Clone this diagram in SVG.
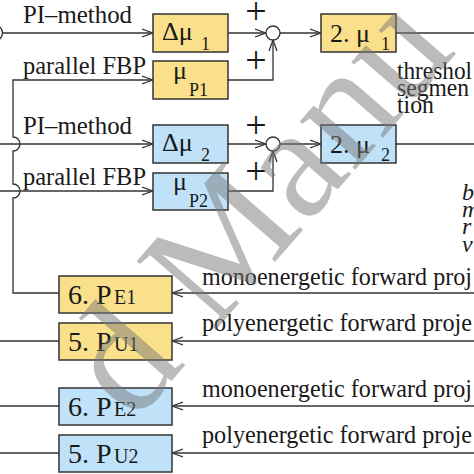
<svg xmlns="http://www.w3.org/2000/svg" width="474" height="474" viewBox="0 0 474 474">
<defs>
<style>
.t{font-family:"Liberation Serif","Times New Roman",serif;font-size:26px;fill:#1a1a1a}
.m{font-family:"Liberation Serif","Times New Roman",serif;font-size:26px;fill:#1a1a1a}
.s{font-family:"Liberation Serif","Times New Roman",serif;font-size:18px;fill:#1a1a1a}
.sc{font-family:"Liberation Serif","Times New Roman",serif;font-size:20px;fill:#1a1a1a}
.big{font-family:"Liberation Serif","Times New Roman",serif;font-size:28px;fill:#1a1a1a}
.pl{font-family:"Liberation Serif","Times New Roman",serif;font-size:38px;fill:#1a1a1a;text-anchor:middle}
.it{font-family:"Liberation Serif","Times New Roman",serif;font-size:24px;font-style:italic;fill:#1a1a1a}
.y{fill:#FAE08A;stroke:#333;stroke-width:1.5}
.bl{fill:#BFE2F8;stroke:#333;stroke-width:1.5}
.ln{fill:none;stroke:#333;stroke-width:1.3}
.wm{font-family:"Liberation Serif","Times New Roman",serif;font-size:160px;fill:#777;fill-opacity:0.5}
</style>
<marker id="ar" markerWidth="12" markerHeight="10" refX="11" refY="5" orient="auto" markerUnits="userSpaceOnUse">
<path d="M0,1 L11,5 L0,9" fill="none" stroke="#333" stroke-width="1.3"/>
</marker>
</defs>
<rect width="474" height="474" fill="#fff"/>

<g id="connectors" class="ln">
<path d="M0,27 Q5,33 0,39"/>
<path d="M3,33 H153" marker-end="url(#ar)"/>
<path d="M59,293 H13 V198 A7,7 0 0 0 13,184 V151 A7,7 0 0 0 13,137 V80 H153" marker-end="url(#ar)"/>
<path d="M228,33 H266" marker-end="url(#ar)"/>
<path d="M228,80 H273 V40" marker-end="url(#ar)"/>
<path d="M280,33 H321" marker-end="url(#ar)"/>
<path d="M396,33 H474"/>
<path d="M0,144 H153" marker-end="url(#ar)"/>
<path d="M0,191 H153" marker-end="url(#ar)"/>
<path d="M228,144 H266" marker-end="url(#ar)"/>
<path d="M228,191 H273 V151" marker-end="url(#ar)"/>
<path d="M280,144 H321" marker-end="url(#ar)"/>
<path d="M396,144 H474"/>
<path d="M474,293 H172" marker-end="url(#ar)"/>
<path d="M474,341 H172" marker-end="url(#ar)"/>
<path d="M0,341 H59"/>
<path d="M474,406 H172" marker-end="url(#ar)"/>
<path d="M0,406 H59"/>
<path d="M474,453 H172" marker-end="url(#ar)"/>
<path d="M0,453 H59"/>
</g>

<g id="labels">
<text class="t" x="23" y="23" textLength="109" lengthAdjust="spacingAndGlyphs">PI–method</text>
<text class="t" x="23" y="74" textLength="123" lengthAdjust="spacingAndGlyphs">parallel FBP</text>
<text class="t" x="23" y="134" textLength="109" lengthAdjust="spacingAndGlyphs">PI–method</text>
<text class="t" x="23" y="185" textLength="123" lengthAdjust="spacingAndGlyphs">parallel FBP</text>
<text class="pl" x="256" y="24">+</text>
<text class="pl" x="256" y="73">+</text>
<text class="pl" x="256" y="138">+</text>
<text class="pl" x="256" y="184">+</text>
<text class="t" x="397" y="79" textLength="75" lengthAdjust="spacingAndGlyphs">threshol</text>
<text class="t" x="397" y="96" textLength="72" lengthAdjust="spacingAndGlyphs">segmen</text>
<text class="t" x="397" y="113" textLength="37" lengthAdjust="spacingAndGlyphs">tion</text>
<text class="it" x="462" y="200">b</text>
<text class="it" x="462" y="217">m</text>
<text class="it" x="462" y="234">r</text>
<text class="it" x="462" y="252">v</text>
<text class="t" x="202" y="285" textLength="270" lengthAdjust="spacingAndGlyphs">monoenergetic forward proj</text>
<text class="t" x="202" y="331" textLength="270" lengthAdjust="spacingAndGlyphs">polyenergetic forward proje</text>
<text class="t" x="202" y="397" textLength="270" lengthAdjust="spacingAndGlyphs">monoenergetic forward proj</text>
<text class="t" x="202" y="443" textLength="270" lengthAdjust="spacingAndGlyphs">polyenergetic forward proje</text>
</g>

<g id="sum1"><circle cx="273" cy="33" r="7" fill="#fff" stroke="#333" stroke-width="1.3"/></g>
<g id="sum2"><circle cx="273" cy="144" r="7" fill="#fff" stroke="#333" stroke-width="1.3"/></g>

<g id="dmu1"><rect class="y" x="153" y="14" width="75" height="38"/><text class="m" x="162" y="40">Δμ</text><text class="s" x="201" y="50">1</text></g>
<g id="mup1"><rect class="y" x="153" y="61" width="75" height="38"/><text class="m" x="173" y="79">μ</text><text class="s" x="189" y="96">P1</text></g>
<g id="mu1"><rect class="y" x="321" y="14" width="75" height="38"/><text class="m" x="330" y="42">2. μ</text><text class="s" x="381" y="50">1</text></g>

<g id="dmu2"><rect class="bl" x="153" y="125" width="75" height="38"/><text class="m" x="162" y="151">Δμ</text><text class="s" x="201" y="161">2</text></g>
<g id="mup2"><rect class="bl" x="153" y="173" width="75" height="37"/><text class="m" x="173" y="190">μ</text><text class="s" x="189" y="207">P2</text></g>
<g id="mu2"><rect class="bl" x="321" y="125" width="75" height="38"/><text class="m" x="330" y="153">2. μ</text><text class="s" x="381" y="161">2</text></g>

<g id="pe1"><rect class="y" x="59" y="276" width="113" height="37"/><text class="big" x="68" y="304">6. P</text><text class="sc" x="114" y="304">E1</text></g>
<g id="pu1"><rect class="y" x="59" y="323" width="113" height="37"/><text class="big" x="68" y="351">5. P</text><text class="sc" x="114" y="351">U1</text></g>
<g id="pe2"><rect class="bl" x="59" y="388" width="113" height="37"/><text class="big" x="68" y="416">6. P</text><text class="sc" x="114" y="416">E2</text></g>
<g id="pu2"><rect class="bl" x="59" y="435" width="113" height="37"/><text class="big" x="68" y="463">5. P</text><text class="sc" x="114" y="463">U2</text></g>

<g id="watermark"><text class="wm" transform="translate(134,424) rotate(-49)">d Manu</text></g>
</svg>
